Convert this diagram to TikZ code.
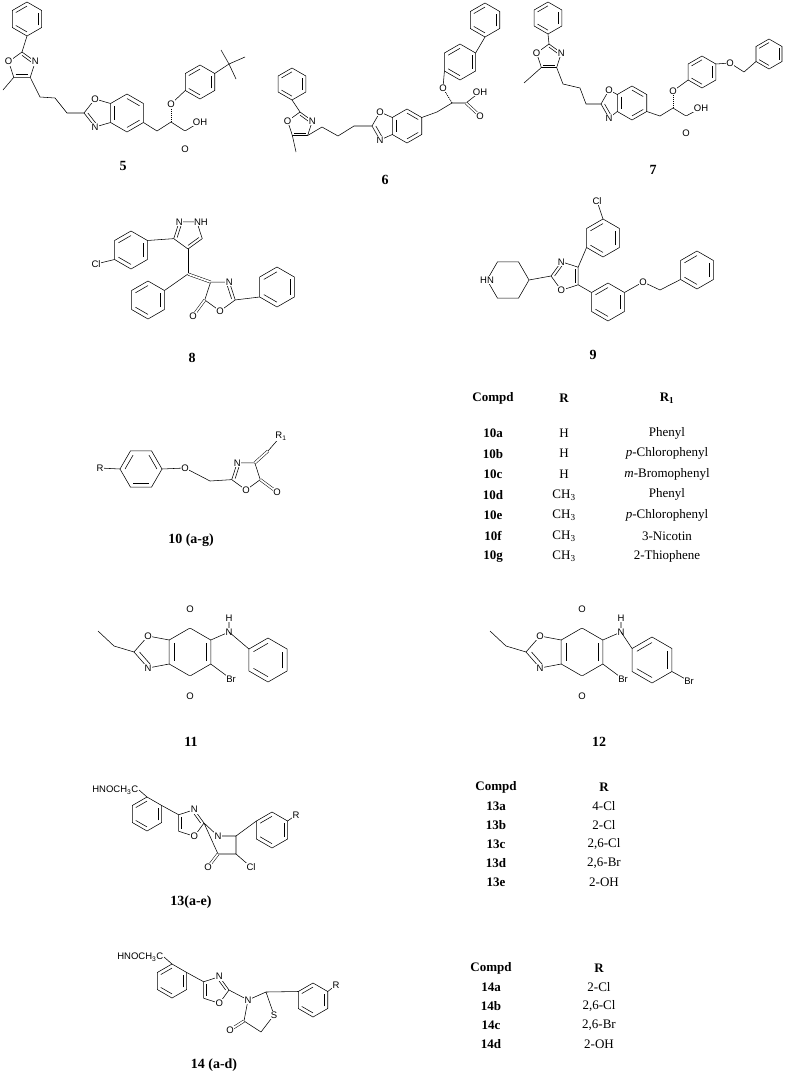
\documentclass[tikz,border=0pt]{standalone}
\usepackage{fontspec}
\setmainfont{Liberation Serif}
\setsansfont{Liberation Sans}
\usetikzlibrary{calc}
\newcommand\hexring[5]{\coordinate (#1c) at (#2,#3);
 \foreach \k in {1,...,6}{\coordinate (#1\k) at ({#2+#4*cos(#5+60*(\k-1))},{#3-#4*sin(#5+60*(\k-1))});}
 \draw[bond] (#11)--(#12)--(#13)--(#14)--(#15)--(#16)--cycle;}
\newcommand\pentring[5]{\coordinate (#1c) at (#2,#3);
 \foreach \k in {1,...,5}{\coordinate (#1\k) at ({#2+#4*cos(#5+72*(\k-1))},{#3-#4*sin(#5+72*(\k-1))});}
 \draw[bond] (#11)--(#12)--(#13)--(#14)--(#15)--cycle;}
\newcommand\inl[3]{\draw[bond] ($(#1)!0.76!(#2)$)--($(#1)!0.76!(#3)$);}
\newcommand\inb[3]{\inl{#1c}{#1#2}{#1#3}}
\newcommand\arom[1]{\inb{#1}{1}{2}\inb{#1}{3}{4}\inb{#1}{5}{6}}
\newcommand\quinone[1]{%
 \hexring{#1h}{190}{652}{24}{90}\inb{#1h}{2}{3}\inb{#1h}{5}{6}
 \coordinate (#1O1) at (148,636); \coordinate (#1C2) at (134,652); \coordinate (#1N3) at (148,668);
 \coordinate (#1oc) at (157,652);
 \draw[bond] (#1h2)--(#1O1)--(#1C2)--(#1N3)--(#1h3); \inl{#1oc}{#1C2}{#1N3}
 \draw[bond] (#1C2)--(114,646)--(98,631);
 \coordinate (#1Ot) at (190,609); \coordinate (#1Ob) at (190,696);
 \draw[dbond] (#1h1)--(#1Ot); \draw[dbond] (#1h4)--(#1Ob);
 \coordinate (#1N) at (229,632); \coordinate (#1H) at (229,618); \coordinate (#1Br) at (231,679);
 \draw[bond] (#1h6)--(#1N)--(#1H); \draw[bond] (#1h5)--(#1Br);
 \node[atom] (#1lO1) at (#1O1) {O}; \node[atom] (#1lN3) at (#1N3) {N};
 \node[atom] (#1lOt) at (#1Ot) {O}; \node[atom] (#1lOb) at (#1Ob) {O};
 \node[atom] (#1lN) at (#1N) {N}; \node[atom] (#1lH) at (#1H) {H}; \node[atom] (#1lBr) at (#1Br) {Br};}
\begin{document}
\begin{tikzpicture}[x=1pt,y=-1pt,
 bond/.style={line width=0.55pt,line join=round},
 dbond/.style={double,double distance=1.8pt,line width=0.5pt},
 hbond/.style={dashed,dash pattern=on 1pt off 1pt,line width=0.8pt},
 atom/.style={font=\sffamily\fontsize{9.5}{9.5}\selectfont,fill=white,inner sep=0.6pt},
 cmpd/.style={font=\bfseries\fontsize{14}{14}\selectfont},
 tab/.style={font=\fontsize{13}{13}\selectfont,inner sep=0pt},
 tabb/.style={font=\bfseries\fontsize{13}{13}\selectfont,inner sep=0pt}]
\useasboundingbox (0,0) rectangle (785,1076);
\fill[white] (0,0) rectangle (785,1076);
% ---------- 5
\hexring{a}{27}{19}{17}{90}\arom{a}
\pentring{b}{22}{66}{14}{90}\inb{b}{5}{1}\inb{b}{3}{4}
\draw[bond] (a4)--(b1); \draw[bond] (b3)--(3,90);
\hexring{c}{127}{113}{19}{90}\inb{c}{6}{1}\inb{c}{4}{5}\inb{c}{2}{3}
\coordinate (c5O) at (95,99); \coordinate (c5C) at (84,113); \coordinate (c5N) at (95,127); \coordinate (c5m) at (100,113);
\draw[bond] (c2)--(c5O)--(c5C)--(c5N)--(c3); \inl{c5m}{c5C}{c5N}
\draw[bond] (b4)--(40,97)--(55,98)--(67,113)--(c5C);
\coordinate (d5CH) at (171,122); \coordinate (d5O) at (171,104); \coordinate (d5C) at (185,131);
\coordinate (d5OH) at (200,122); \coordinate (d5Od) at (185,149);
\draw[bond] (c5)--(157,131)--(d5CH)--(d5C)--(d5OH); \draw[hbond] (d5CH)--(d5O); \draw[dbond] (d5C)--(d5Od);
\hexring{d}{200}{82}{17}{90}\arom{d}
\draw[bond] (d3)--(d5O); \draw[bond] (d6)--(229,64); \draw[bond] (229,64)--(221,50); \draw[bond] (229,64)--(245,57); \draw[bond] (229,64)--(236,79);
\node[atom] (l5a) at (b2) {O}; \node[atom] (l5b) at (b5) {N}; \node[atom] (l5c) at (c5O) {O}; \node[atom] (l5d) at (c5N) {N};
\node[atom] (l5e) at (d5O) {O}; \node[atom] (l5f) at (d5OH) {OH}; \node[atom] (l5g) at (d5Od) {O};
\node[cmpd] (n5) at (123,166) {5};
% ---------- 6
\hexring{e}{292}{84}{16}{90}\arom{e}
\pentring{f}{300}{125}{13}{90}\inb{f}{5}{1}\inb{f}{3}{4}
\draw[bond] (e4)--(f1); \draw[bond] (f3)--(296,152);
\coordinate (g6O) at (380,112); \coordinate (g6C) at (372,126); \coordinate (g6N) at (380,140); \coordinate (g6m) at (388,126);
\hexring{g}{407}{126}{17}{90}\inb{g}{6}{1}\inb{g}{4}{5}\inb{g}{2}{3}
\draw[bond] (g2)--(g6O)--(g6C)--(g6N)--(g3); \inl{g6m}{g6C}{g6N}
\draw[bond] (f4)--(322,127)--(338,136)--(354,126)--(g6C);
\coordinate (h6CH) at (452,103); \coordinate (h6O) at (443,88); \coordinate (h6C) at (466,103);
\coordinate (h6OH) at (480,92); \coordinate (h6Od) at (480,116);
\draw[bond] (g6)--(437,112)--(h6CH)--(h6C)--(h6OH); \draw[hbond] (h6CH)--(h6O); \draw[dbond] (h6C)--(h6Od);
\hexring{h}{460}{62}{18}{90}\arom{h}
\hexring{i}{485}{20}{17}{90}\arom{i}
\draw[bond] (h3)--(h6O); \draw[bond] (h6)--(i4);
\node[atom] (l6a) at (f2) {O}; \node[atom] (l6b) at (f5) {N}; \node[atom] (l6c) at (g6O) {O}; \node[atom] (l6d) at (g6N) {N};
\node[atom] (l6e) at (h6O) {O}; \node[atom] (l6f) at (h6OH) {OH}; \node[atom] (l6g) at (h6Od) {O};
\node[cmpd] (n6) at (385,180) {6};
% ---------- 7
\hexring{j}{548}{18}{16}{90}\arom{j}
\pentring{k}{549}{57}{13}{90}\inb{k}{5}{1}\inb{k}{3}{4}
\draw[bond] (j4)--(k1); \draw[bond] (k3)--(524,83);
\coordinate (l7O) at (609,90); \coordinate (l7C) at (601,104); \coordinate (l7N) at (609,118); \coordinate (l7m) at (616,104);
\hexring{l}{632}{103}{17}{90}\inb{l}{6}{1}\inb{l}{4}{5}\inb{l}{2}{3}
\draw[bond] (l2)--(l7O)--(l7C)--(l7N)--(l3); \inl{l7m}{l7C}{l7N}
\draw[bond] (k4)--(563,84)--(580,88)--(586,104)--(l7C);
\coordinate (m7CH) at (673,108); \coordinate (m7O) at (673,91); \coordinate (m7C) at (686,116);
\coordinate (m7OH) at (701,108); \coordinate (m7Od) at (686,133);
\draw[bond] (l5)--(660,116)--(m7CH)--(m7C)--(m7OH); \draw[hbond] (m7CH)--(m7O); \draw[dbond] (m7C)--(m7Od);
\hexring{m}{702}{72}{16}{90}\arom{m}
\hexring{n}{769}{54}{15}{90}\arom{n}
\coordinate (m7Ob) at (730,63);
\draw[bond] (m3)--(m7O); \draw[bond] (m6)--(m7Ob)--(744,72)--(n3);
\node[atom] (l7a) at (k2) {O}; \node[atom] (l7b) at (k5) {N}; \node[atom] (l7c) at (l7O) {O}; \node[atom] (l7d) at (l7N) {N};
\node[atom] (l7e) at (m7O) {O}; \node[atom] (l7f) at (m7OH) {OH}; \node[atom] (l7g) at (m7Od) {O}; \node[atom] (l7h) at (m7Ob) {O};
\node[cmpd] (n7) at (653,170) {7};
% ---------- 8
\pentring{p}{188}{234}{15}{270}\inb{p}{4}{5}\inb{p}{1}{2}
\hexring{q}{131}{250}{19}{90}\arom{q}
\coordinate (q8Cl) at (96,264); \coordinate (r8x) at (188,274);
\draw[bond] (q6)--(p5); \draw[bond] (q3)--(q8Cl); \draw[bond] (p1)--(r8x);
\hexring{r}{148}{300}{19}{90}\arom{r}
\draw[bond] (r6)--(r8x);
\pentring{s}{220}{295}{16}{126}\inb{s}{4}{5}
\coordinate (s8O) at (193,316);
\draw[dbond] (r8x)--(s1); \draw[dbond] (s2)--(s8O);
\hexring{t}{277}{287}{20}{90}\arom{t}
\draw[bond] (t3)--(s4);
\node[atom] (l8a) at (p4) {N}; \node[atom,anchor=west,xshift=-3.5pt] (l8b) at (p3) {NH}; \node[atom] (l8c) at (q8Cl) {Cl};
\node[atom] (l8d) at (s5) {N}; \node[atom] (l8e) at (s3) {O}; \node[atom] (l8f) at (s8O) {O};
\node[cmpd] (n8) at (192,358) {8};
% ---------- 9
\hexring{u}{508}{280}{21}{0}
\pentring{v}{566}{276}{15}{180}\inb{v}{5}{1}\inb{v}{3}{4}
\draw[bond] (u1)--(v1);
\hexring{w}{603}{238}{19}{90}\arom{w}
\coordinate (w9Cl) at (597,201);
\draw[bond] (w3)--(v4); \draw[bond] (w1)--(w9Cl);
\hexring{x}{608}{302}{19}{90}\arom{x}
\hexring{y}{697}{270}{19}{90}\arom{y}
\coordinate (x9O) at (643,282);
\draw[bond] (x2)--(v3); \draw[bond] (x6)--(x9O)--(660,290)--(y3);
\node[atom] (l9a) at (u4) {HN}; \node[atom] (l9b) at (v5) {N}; \node[atom] (l9c) at (v2) {O};
\node[atom] (l9d) at (w9Cl) {Cl}; \node[atom] (l9e) at (x9O) {O};
\node[cmpd] (n9) at (593,355) {9};
% ---------- 10
\hexring{z}{141}{469}{21}{0}\arom{z}
\pentring{A}{246}{475}{15}{198}\inb{A}{1}{5}
\coordinate (z10R) at (100,468); \coordinate (z10O) at (185,468); \coordinate (A10O) at (277,492);
\coordinate (A10CH) at (268,451); \coordinate (A10R) at (281,436);
\draw[bond] (z4)--(z10R); \draw[bond] (z1)--(z10O)--(210,481)--(A1);
\draw[dbond] (A3)--(A10O); \draw[dbond] (A4)--(A10CH); \draw[bond] (A10CH)--(A10R);
\node[atom] (l10a) at (z10R) {R}; \node[atom] (l10b) at (z10O) {O}; \node[atom] (l10c) at (A5) {N};
\node[atom] (l10d) at (A2) {O}; \node[atom] (l10e) at (A10O) {O}; \node[atom] (l10f) at (A10R) {R\textsubscript{1}};
\node[cmpd] (n10) at (191,540) {10 (a-g)};
\node[tabb] (t10h1) at (493,398) {Compd}; \node[tabb] (t10h2) at (564,398) {R}; \node[tabb] (t10h3) at (667,398) {R\textsubscript{1}};
\foreach \c/\r/\s [count=\i] in {10a/H/Phenyl,10b/H/\textit{p}-Chlorophenyl,10c/H/\textit{m}-Bromophenyl,10d/CH\textsubscript{3}/Phenyl,10e/CH\textsubscript{3}/\textit{p}-Chlorophenyl,10f/CH\textsubscript{3}/3-Nicotin,10g/CH\textsubscript{3}/2-Thiophene}{
 \node[tabb] (t10a\i) at (493,{433+20.6*(\i-1)}) {\c};
 \node[tab] (t10b\i) at (564,{433+20.6*(\i-1)}) {\r};
 \node[tab] (t10c\i) at (667,{433+20.6*(\i-1)}) {\s};}
% ---------- 11, 12
\quinone{K}
\hexring{P}{268}{660}{22}{90}\arom{P}
\draw[bond] (KN)--(P2);
\node[cmpd] (n11) at (191,742) {11};
\begin{scope}[shift={(392,0)}]
\quinone{L}
\hexring{Q}{260}{660}{23}{90}\arom{Q}
\coordinate (Q12Br) at (297,681);
\draw[bond] (LN)--(Q2); \draw[bond] (Q5)--(Q12Br);
\node[atom] (l12a) at (Q12Br) {Br};
\end{scope}
\node[cmpd] (n12) at (599,742) {12};
% ---------- 13
\hexring{B}{147}{814}{17}{90}\arom{B}
\node[atom,anchor=east] (l13a) at (139,790) {HNOCH\textsubscript{3}C};
\draw[bond] (l13a.east)--(B1);
\pentring{C}{190}{823}{14}{0}\inb{C}{1}{2}\inb{C}{3}{4}
\draw[bond] (B6)--(C3);
\coordinate (C13N) at (218,836); \coordinate (C13a) at (236,836); \coordinate (C13b) at (236,854); \coordinate (C13c) at (218,854);
\coordinate (C13O) at (208,867); \coordinate (C13Cl) at (251,867);
\draw[bond] (C1)--(C13N)--(C13a)--(C13b)--(C13c)--cycle; \draw[dbond] (C13c)--(C13O); \draw[bond] (C13b)--(C13Cl);
\hexring{D}{272}{830}{18}{90}\arom{D}
\coordinate (D13R) at (296,815);
\draw[bond] (C13a)--(D2); \draw[bond] (D6)--(D13R);
\node[atom] (l13b) at (C2) {N}; \node[atom] (l13c) at (C5) {O}; \node[atom] (l13d) at (C13N) {N};
\node[atom] (l13e) at (C13O) {O}; \node[atom] (l13f) at (C13Cl) {Cl}; \node[atom] (l13g) at (D13R) {R};
\node[cmpd] (n13) at (191,902) {13(a-e)};
\node[tabb] (t13h1) at (496,787) {Compd}; \node[tabb] (t13h2) at (604,787) {R};
\foreach \c/\r [count=\i] in {13a/4-Cl,13b/2-Cl,13c/{2,6-Cl},13d/{2,6-Br},13e/2-OH}{
 \node[tabb] (t13a\i) at (496,{806+19*(\i-1)}) {\c};
 \node[tab] (t13b\i) at (604,{806+19*(\i-1)}) {\r};}
% ---------- 14
\hexring{E}{172}{981}{17}{90}\arom{E}
\node[atom,anchor=east] (l14a) at (164,957) {HNOCH\textsubscript{3}C};
\draw[bond] (l14a.east)--(E1);
\pentring{F}{215}{990}{14}{0}\inb{F}{1}{2}\inb{F}{3}{4}
\draw[bond] (E6)--(F3);
\coordinate (F14N) at (248,1000); \coordinate (F14a) at (266,992); \coordinate (F14S) at (274,1015);
\coordinate (F14b) at (261,1032); \coordinate (F14c) at (244,1021); \coordinate (F14O) at (230,1030);
\draw[bond] (F1)--(F14N)--(F14a)--(F14S)--(F14b)--(F14c)--(F14N); \draw[dbond] (F14c)--(F14O);
\hexring{G}{313}{1000}{17}{90}\arom{G}
\coordinate (G14R) at (336,985);
\draw[bond] (F14a)--(G2); \draw[bond] (G6)--(G14R);
\node[atom] (l14b) at (F2) {N}; \node[atom] (l14c) at (F5) {O}; \node[atom] (l14d) at (F14N) {N};
\node[atom] (l14e) at (F14S) {S}; \node[atom] (l14f) at (F14O) {O}; \node[atom] (l14g) at (G14R) {R};
\node[cmpd] (n14) at (214,1065) {14 (a-d)};
\node[tabb] (t14h1) at (491,968) {Compd}; \node[tabb] (t14h2) at (599,968) {R};
\foreach \c/\r [count=\i] in {14a/2-Cl,14b/{2,6-Cl},14c/{2,6-Br},14d/2-OH}{
 \node[tabb] (t14a\i) at (491,{987+19*(\i-1)}) {\c};
 \node[tab] (t14b\i) at (599,{987+19*(\i-1)}) {\r};}
\end{tikzpicture}
\end{document}
